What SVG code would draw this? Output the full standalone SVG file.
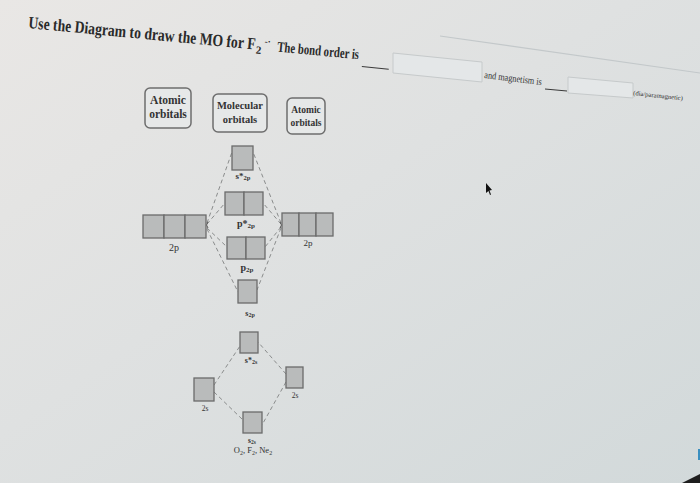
<svg xmlns="http://www.w3.org/2000/svg" width="700" height="483" viewBox="0 0 700 483">
<defs>
<linearGradient id="bg" x1="0" y1="0" x2="1" y2="1">
<stop offset="0" stop-color="#e9e7e5"/>
<stop offset="0.45" stop-color="#dfe1e1"/>
<stop offset="1" stop-color="#d2d9da"/>
</linearGradient>
<style>
.title{font-family:"Liberation Serif",serif;font-weight:bold;fill:#2a2a2a}
.small{font-family:"Liberation Serif",serif;fill:#333}
.lbl{font-family:"Liberation Serif",serif;fill:#333;text-anchor:middle}
.orb{fill:#b9bbbb;stroke:#6a6b6b;stroke-width:1.3}
.hdr{fill:#e6e8e8;stroke:#6e6e6e;stroke-width:1.5}
.dash{stroke:#8a8c8c;stroke-width:1;stroke-dasharray:4 3;fill:none}
.inp{fill:#e4e7e8;stroke:#c6cacb;stroke-width:1}
.ul{stroke:#3a3a3a;stroke-width:1}
</style>
</defs>
<rect width="700" height="483" fill="url(#bg)"/>
<line x1="440" y1="36" x2="700" y2="73" stroke="#c3c8ca" stroke-width="1.2"/>
<path d="M682,483 L700,474 L700,483 Z" fill="#1e1e1e"/>
<rect x="698" y="449" width="2" height="11" fill="#3a8fc0"/>

<g id="question">
<g transform="translate(28,28) rotate(5.4)">
<text class="title" x="0" y="0" font-size="17" textLength="228" lengthAdjust="spacingAndGlyphs">Use the Diagram to draw the MO for F</text>
<text class="title" x="229" y="4" font-size="11">2</text>
<text class="title" x="237" y="-6" font-size="9">-·</text>
<text class="title" x="250" y="0" font-size="14.5" textLength="82" lengthAdjust="spacingAndGlyphs">The bond order is</text>
<line class="ul" x1="336" y1="7" x2="363" y2="7"/>
</g>
<polygon class="inp" points="393,53 482,62 482,82 393,73"/>
<text class="small" transform="translate(484,78) rotate(7)" font-size="10" textLength="58" lengthAdjust="spacingAndGlyphs">and magnetism is</text>
<line class="ul" x1="545" y1="89" x2="567" y2="91"/>
<polygon class="inp" points="568,77 633,83 633,98 568,93"/>
<text class="small" transform="translate(633,95) rotate(6)" font-size="6.5" textLength="50" lengthAdjust="spacingAndGlyphs">(dia/paramagnetic)</text>
</g>

<g id="cursor">
<polygon points="486,183 486,193 488.5,191 490,195 491,194.5 489.5,190.5 492,190" fill="#111"/>
</g>

<g id="hdr-atomic-left">
<rect class="hdr" x="145" y="88" width="46" height="40" rx="5"/>
<text class="lbl" x="168" y="104" font-size="11.5" font-weight="bold">Atomic</text>
<text class="lbl" x="168" y="118" font-size="11.5" font-weight="bold">orbitals</text>
</g>
<g id="hdr-molecular">
<rect class="hdr" x="213" y="94" width="54" height="38" rx="5"/>
<text class="lbl" x="240" y="109" font-size="10.5" font-weight="bold">Molecular</text>
<text class="lbl" x="240" y="123" font-size="10.5" font-weight="bold">orbitals</text>
</g>
<g id="hdr-atomic-right">
<rect class="hdr" x="287" y="98" width="38" height="36" rx="5"/>
<text class="lbl" x="306" y="113" font-size="9.5" font-weight="bold">Atomic</text>
<text class="lbl" x="306" y="126" font-size="9.5" font-weight="bold">orbitals</text>
</g>

<g id="connectors">
<line class="dash" x1="207" y1="223" x2="232" y2="152"/>
<line class="dash" x1="207" y1="224" x2="225" y2="203"/>
<line class="dash" x1="207" y1="228" x2="227" y2="247"/>
<line class="dash" x1="207" y1="229" x2="238" y2="292"/>
<line class="dash" x1="281" y1="223" x2="253" y2="152"/>
<line class="dash" x1="281" y1="224" x2="263" y2="203"/>
<line class="dash" x1="281" y1="227" x2="265" y2="247"/>
<line class="dash" x1="281" y1="228" x2="257" y2="290"/>
<line class="dash" x1="214" y1="385" x2="240" y2="346"/>
<line class="dash" x1="214" y1="392" x2="243" y2="420"/>
<line class="dash" x1="286" y1="374" x2="258" y2="342"/>
<line class="dash" x1="286" y1="382" x2="262" y2="425"/>
<path d="M208,222 q-3,3 0,6" stroke="#555" stroke-width="1" fill="none"/>
<path d="M280,222 q3,3 0,6" stroke="#555" stroke-width="1" fill="none"/>
</g>

<g id="sigma-star-2p">
<rect class="orb" x="232" y="146" width="21" height="24"/>
<text class="lbl" x="243" y="179" font-size="9" font-weight="bold">s*<tspan font-size="6.5" dy="1">2p</tspan></text>
</g>
<g id="pi-star-2p">
<rect class="orb" x="225" y="192" width="19" height="23"/>
<rect class="orb" x="244" y="192" width="19" height="23"/>
<text class="lbl" x="246" y="227" font-size="10" font-weight="bold">p*<tspan font-size="7" dy="1">2p</tspan></text>
</g>
<g id="left-2p">
<rect class="orb" x="143" y="215" width="21" height="23"/>
<rect class="orb" x="164" y="215" width="21" height="23"/>
<rect class="orb" x="185" y="215" width="21" height="23"/>
<text class="lbl" x="174" y="251" font-size="10">2p</text>
</g>
<g id="right-2p">
<rect class="orb" x="282" y="213" width="17" height="23"/>
<rect class="orb" x="299" y="213" width="17" height="23"/>
<rect class="orb" x="316" y="213" width="17" height="23"/>
<text class="lbl" x="308" y="246" font-size="9">2p</text>
</g>
<g id="pi-2p">
<rect class="orb" x="227" y="237" width="19" height="22"/>
<rect class="orb" x="246" y="237" width="19" height="22"/>
<text class="lbl" x="247" y="271" font-size="10" font-weight="bold">p<tspan font-size="7" dy="1">2p</tspan></text>
</g>
<g id="sigma-2p">
<rect class="orb" x="238" y="280" width="19" height="23"/>
<text class="lbl" x="250" y="316" font-size="8" font-weight="bold">s<tspan font-size="6" dy="1">2p</tspan></text>
</g>
<g id="sigma-star-2s">
<rect class="orb" x="240" y="332" width="18" height="21"/>
<text class="lbl" x="251" y="363" font-size="8" font-weight="bold">s*<tspan font-size="6" dy="1">2s</tspan></text>
</g>
<g id="left-2s">
<rect class="orb" x="194" y="378" width="20" height="23"/>
<text class="lbl" x="205" y="411" font-size="7.5">2s</text>
</g>
<g id="right-2s">
<rect class="orb" x="286" y="367" width="17" height="21"/>
<text class="lbl" x="295" y="398" font-size="7.5">2s</text>
</g>
<g id="sigma-2s">
<rect class="orb" x="243" y="412" width="19" height="21"/>
<text class="lbl" x="252" y="443" font-size="7.5" font-weight="bold">s<tspan font-size="5.5" dy="1">2s</tspan></text>
</g>
<g id="molecules">
<text class="lbl" x="253" y="453" font-size="8.5">O<tspan font-size="6" dy="1.5">2</tspan><tspan dy="-1.5">, F</tspan><tspan font-size="6" dy="1.5">2</tspan><tspan dy="-1.5">, Ne</tspan><tspan font-size="6" dy="1.5">2</tspan></text>
</g>
</svg>
